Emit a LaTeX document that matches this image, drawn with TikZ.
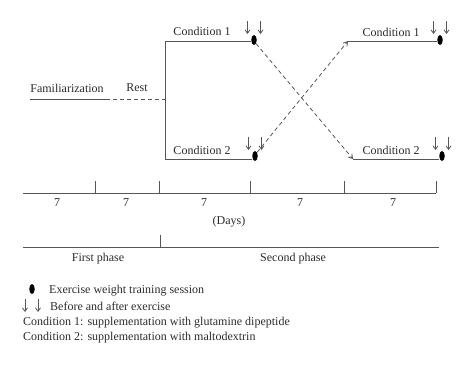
\documentclass[tikz,border=0pt]{standalone}
\usepackage{fontspec}
\setmainfont{Liberation Serif}
\usetikzlibrary{arrows.meta,shapes.geometric}
\definecolor{linegray}{HTML}{565656}
\definecolor{textgray}{HTML}{2B2B2B}
\tikzset{
  txt/.style={text=textgray,font=\fontsize{12}{14}\selectfont,inner sep=0pt},
  rule/.style={draw=linegray,line width=0.8pt},
  session/.style={ellipse,fill=black,inner sep=0pt,minimum width=5.5pt,minimum height=10pt},
  cross/.style={rule,dash pattern=on 4pt off 3pt,-{Straight Barb[length=4pt,width=5pt]}},
  marks/.pic={
    \draw[rule,-{Straight Barb[length=3.5pt,width=5pt]}] (-6.5,-19) -- (-6.5,-6);
    \draw[rule,-{Straight Barb[length=3.5pt,width=5pt]}] (6.5,-19) -- (6.5,-6);
  }
}
\begin{document}
\begin{tikzpicture}[x=1pt,y=-1pt]
  \useasboundingbox (0,0) rectangle (474,365);
  \draw
    (67,88) node[txt] (fam){Familiarization}
    (137,88) node[txt] (rest){Rest}
    (202,31) node[txt] (c1a){Condition 1}
    (202,150) node[txt] (c2a){Condition 2}
    (391,32) node[txt] (c1b){Condition 1}
    (391,150) node[txt] (c2b){Condition 2};
  \coordinate (fs) at (30,99);
  \coordinate (fe) at (106,99);
  \coordinate (split) at (165,99);
  \coordinate (up) at (165,41);
  \coordinate (down) at (165,159);
  \coordinate (r1) at (348,41);
  \coordinate (r2) at (353,159);
  \node[session] (s1) at (254,40) {};
  \node[session] (s2) at (255,156) {};
  \node[session] (s3) at (440,40) {};
  \node[session] (s4) at (442,156) {};
  \begin{scope}[rule]
    \draw (fs) -- (fe);
    \draw[dash pattern=on 4pt off 3pt] (fe) -- (split);
    \draw (up) -- (down);
    \draw (up) -- (up -| s1.west);
    \draw (down) -- (down -| s2.west);
    \draw (r1) -- (r1 -| s3.west);
    \draw (r2) -- (r2 -| s4.west);
  \end{scope}
  \draw[cross] (s1.south east) -- (r2);
  \draw[cross] (s2.north east) -- (r1);
  \pic at (s1) {marks};
  \pic at (s2) {marks};
  \pic at (s3) {marks};
  \pic at (s4) {marks};
  \draw[rule] (23,193) coordinate (t0) -- (436,193) coordinate (t5);
  \foreach \x in {95,159,250,344,436}
    \draw[rule] (\x,193) -- (\x,181);
  \foreach \x in {57,126,204,300,393}
    \node[txt] (d\x) at (\x,203) {7};
  \node[txt] (days) at (229,222) {(Days)};
  \draw[rule] (23,247) coordinate (ph0) -- (439,247) coordinate (ph1);
  \draw[rule] (160,247) -- (160,235);
  \node[txt] (p1) at (98,259) {First phase};
  \node[txt] (p2) at (293,259) {Second phase};
  \node[session] (ls) at (32,289) {};
  \node[txt,anchor=base west] (l1) at (49,293) {Exercise weight training session};
  \pic at (31.5,318) {marks};
  \node[txt,anchor=base west] (l2) at (50,310) {Before and after exercise};
  \node[txt,anchor=base west] (l3) at (23,325) {Condition 1: supplementation with glutamine dipeptide};
  \node[txt,anchor=base west] (l4) at (23,340) {Condition 2: supplementation with maltodextrin};
\end{tikzpicture}
\end{document}
